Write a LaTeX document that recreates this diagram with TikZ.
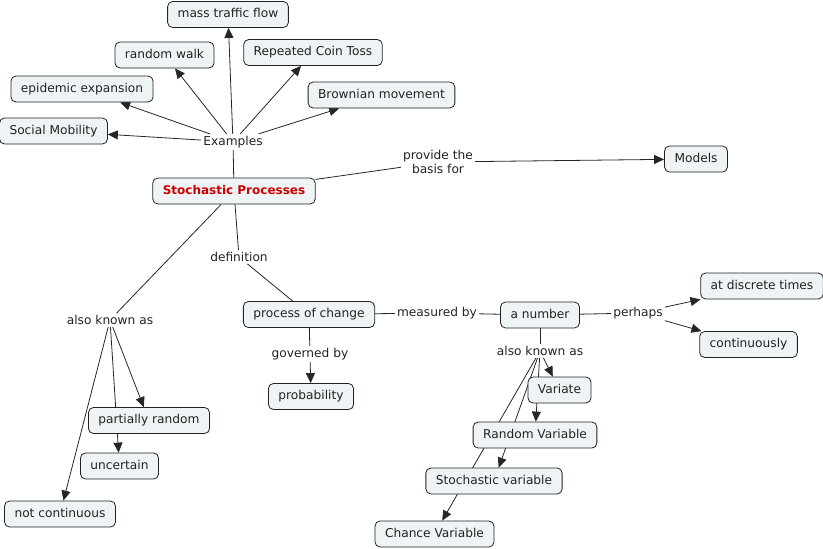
\documentclass[tikz,border=0pt]{standalone}
\usepackage{fontspec}
\setmainfont{DejaVu Sans}
\usetikzlibrary{arrows.meta,backgrounds}
\definecolor{boxfill}{HTML}{EEF4F6}
\definecolor{boxline}{HTML}{222222}
\definecolor{txt}{HTML}{222222}
\definecolor{redtxt}{HTML}{CC0000}
\tikzset{
  concept/.style={draw=boxline, fill=boxfill, rounded corners=5pt, line width=0.8pt,
    inner xsep=10pt, inner ysep=0pt, minimum height=26pt, text height=9pt, text depth=2.5pt,
    font=\fontsize{12.2}{14}\selectfont, text=txt},
  lbl/.style={inner sep=2pt, font=\fontsize{12.2}{14}\selectfont, text=txt, align=center},
  link/.style={draw=black!85, line width=0.8pt},
  arr/.style={link, -{Triangle[length=10pt,width=9pt]}}
}
\begin{document}
\begin{tikzpicture}[x=1pt,y=-1pt]
\useasboundingbox (0,0) rectangle (823,549);
% concepts
\node[concept] (mtf) at (228,14.5) {mass traffic flow};
\node[concept] (rw) at (164.5,55) {random walk};
\node[concept] (rct) at (313,52.5) {Repeated Coin Toss};
\node[concept] (epi) at (82,89) {epidemic expansion};
\node[concept] (bm) at (381.5,95) {Brownian movement};
\node[concept] (sm) at (53.5,131) {Social Mobility};
\node[concept, text=redtxt, font=\fontsize{12}{14}\selectfont\bfseries] (sp) at (234,191) {Stochastic Processes};
\node[concept] (mod) at (696,159) {Models};
\node[concept] (poc) at (309,314.5) {process of change};
\node[concept] (num) at (540,315) {a number};
\node[concept] (adt) at (762,286) {at discrete times};
\node[concept] (cont) at (748.5,344.5) {continuously};
\node[concept] (prob) at (311,396.5) {probability};
\node[concept] (var) at (559.5,390) {Variate};
\node[concept] (rv) at (535,435) {Random Variable};
\node[concept] (sv) at (494,481) {Stochastic variable};
\node[concept] (cv) at (434.5,534) {Chance Variable};
\node[concept] (pr) at (149,420.5) {partially random};
\node[concept] (unc) at (119.5,466) {uncertain};
\node[concept] (nc) at (60,514) {not continuous};
% link labels
\node[lbl] (ex) at (233,142) {Examples};
\node[lbl] (ptb) at (438,162) {provide the\\basis for};
\node[lbl] (def) at (239,257) {definition};
\node[lbl] (akaL) at (110,320) {also known as};
\node[lbl] (mb) at (437,313) {measured by};
\node[lbl] (per) at (638,313) {perhaps};
\node[lbl] (gb) at (310,354) {governed by};
\node[lbl] (akaR) at (540,351) {also known as};
% connectors
\begin{scope}[on background layer]
\draw[link] (sp) -- (ex);
\draw[arr] (ex) -- (mtf);
\draw[arr] (ex) -- (rw);
\draw[arr] (ex) -- (rct);
\draw[arr] (ex) -- (epi);
\draw[arr] (ex) -- (bm);
\draw[arr] (ex) -- (sm);
\draw[link] (sp) -- (ptb);
\draw[arr] (ptb) -- (mod);
\draw[link] (sp) -- (def);
\draw[link] (def) -- (poc);
\draw[link] (sp) -- (akaL);
\draw[arr] (akaL) -- (pr);
\draw[arr] (akaL) -- (unc);
\draw[arr] (akaL) -- (nc);
\draw[link] (poc) -- (mb);
\draw[link] (mb) -- (num);
\draw[link] (poc) -- (gb);
\draw[arr] (gb) -- (prob);
\draw[link] (num) -- (per);
\draw[arr] (per) -- (adt);
\draw[arr] (per) -- (cont);
\draw[link] (num) -- (akaR);
\draw[arr] (akaR) -- (var);
\draw[arr] (akaR) -- (rv);
\draw[arr] (akaR) -- (sv);
\draw[arr] (akaR) -- (cv);
\end{scope}
\end{tikzpicture}
\end{document}
